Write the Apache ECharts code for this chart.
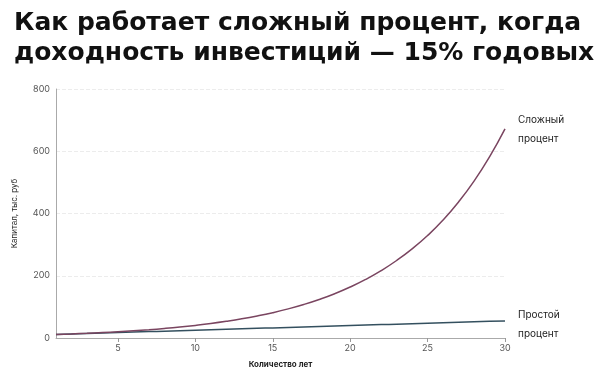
<!DOCTYPE html>
<html><head><meta charset="utf-8">
<script src="https://cdn.jsdelivr.net/npm/echarts@6/dist/echarts.min.js"></script>
<style>html,body{margin:0;padding:0;background:#fff}#c{width:604px;height:374px}</style>
</head><body><div id="c"></div>
<script>
const years = [1,2,3,4,5,6,7,8,9,10,11,12,13,14,15,16,17,18,19,20,21,22,23,24,25,26,27,28,29,30];
const compound = [11.5,13.2,15.2,17.5,20.1,23.1,26.6,30.6,35.2,40.5,46.5,53.5,61.5,70.8,81.4,93.6,107.6,123.8,142.3,163.7,188.2,216.5,249.0,286.3,329.2,379,437,504,582,672];
const simple = [11.5,13,14.5,16,17.5,19,20.5,22,23.5,25,26.5,28,29.5,31,32.5,34,35.5,37,38.5,40,41.5,43,44.5,46,47.5,49,50.5,52,53.5,55];
const yTicks = [0,200,400,600,800];
const titleLines = ['Как работает сложный процент, когда','доходность инвестиций — 15% годовых'];

const chart = echarts.init(document.getElementById('c'));
const font = 'Inter, "Open Sans", sans-serif';
chart.setOption({
  animation:false,
  title:{text:titleLines.join('\n'),left:9,top:3,textStyle:{fontFamily:'"DejaVu Sans", sans-serif',fontWeight:'bold',fontSize:25,color:'#111',lineHeight:30}},
  grid:{left:56,right:99,top:89,bottom:35},
  xAxis:{type:'category',data:years,boundaryGap:false,
    name:'Количество лет',nameLocation:'middle',nameGap:23,
    nameTextStyle:{fontFamily:font,fontSize:8,fontWeight:'bold',color:'#222'},
    axisLine:{lineStyle:{color:'#aaa'}},
    axisTick:{length:4,interval:(i)=>(i+1)%5===0,lineStyle:{color:'#999'}},
    axisLabel:{interval:(i)=>(i+1)%5===0,fontFamily:font,fontSize:9,color:'#555',margin:6}},
  yAxis:{type:'value',min:yTicks[0],max:yTicks[yTicks.length-1],interval:200,
    name:'Капитал, тыс. руб',nameLocation:'middle',nameGap:37,nameRotate:90,
    nameTextStyle:{fontFamily:font,fontSize:8,color:'#222'},
    axisLine:{show:true,lineStyle:{color:'#aaa'}},axisTick:{show:false},
    axisLabel:{fontFamily:font,fontSize:9,color:'#555',margin:6},
    splitLine:{lineStyle:{color:'#ececec',type:'dashed'}}},
  series:[
    {name:'Простой процент',type:'line',data:simple,showSymbol:false,smooth:true,lineStyle:{color:'#34505f',width:1.5}},
    {name:'Сложный процент',type:'line',data:compound,showSymbol:false,smooth:true,lineStyle:{color:'#7a4560',width:1.5}}
  ],
  graphic:[
    {type:'text',left:518,top:110,style:{text:'Сложный\nпроцент',fontFamily:font,fontSize:10,lineHeight:19,fill:'#222'}},
    {type:'text',left:518,top:305,style:{text:'Простой\nпроцент',fontFamily:font,fontSize:10,lineHeight:19,fill:'#222'}}
  ]
});
</script></body></html>
